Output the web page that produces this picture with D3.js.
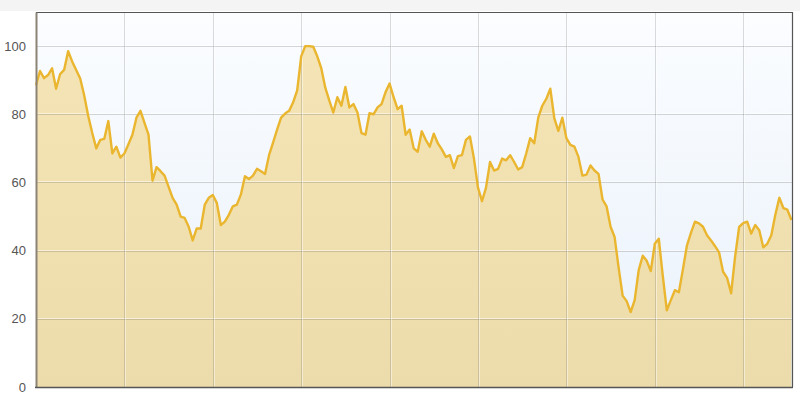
<!DOCTYPE html>
<html>
<head>
<meta charset="utf-8">
<script src="https://cdn.jsdelivr.net/npm/d3@7"></script>
<style>
  html, body { margin: 0; padding: 0; background: #fff; }
  svg { display: block; }
</style>
</head>
<body>
<div id="chart"></div>
<script>
// series values, one per step
const values = [
  88.5, 92.7, 90.6, 91.5, 93.5, 87.5, 91.8, 93.0, 98.5, 95.5,
  93.0, 90.5, 85.5, 79.5, 74.5, 70.0, 72.5, 72.8, 78.0, 68.5,
  70.5, 67.3, 68.5, 71.2, 74.0, 79.0, 81.0, 77.5, 74.0, 60.5,
  64.5, 63.3, 62.0, 58.7, 55.5, 53.5, 50.0, 49.6, 47.0, 43.0,
  46.5, 46.5, 53.5, 55.5, 56.3, 54.0, 47.5, 48.5, 50.5, 53.0,
  53.5, 56.5, 61.8, 61.0, 62.0, 64.0, 63.3, 62.5, 68.0, 71.7,
  75.5, 79.0, 80.2, 81.0, 83.5, 87.0, 97.0, 100.0, 100.0, 99.8,
  97.0, 93.5, 87.8, 84.0, 80.5, 85.0, 82.5, 88.0, 82.0, 83.0,
  80.5, 74.5, 74.0, 80.3, 80.0, 82.0, 83.0, 86.5, 89.0, 85.0,
  81.5, 82.5, 74.0, 75.5, 70.0, 69.0, 75.0, 72.5, 70.5, 74.3,
  71.5, 69.7, 67.5, 68.0, 64.2, 67.7, 68.0, 72.5, 73.5, 67.0,
  58.5, 54.5, 58.5, 66.0, 63.5, 64.0, 67.0, 66.5, 68.0, 66.0,
  63.8, 64.5, 68.5, 73.0, 71.5, 79.0, 82.5, 84.5, 87.5, 78.8,
  75.1, 79.0, 73.0, 71.0, 70.5, 67.5, 62.0, 62.3, 65.0, 63.5,
  62.5, 55.0, 53.0, 47.0, 44.0, 35.0, 26.8, 25.2, 22.0, 25.5,
  34.3, 38.5, 37.0, 34.0, 42.0, 43.5, 32.5, 22.5, 25.5, 28.4,
  27.8, 34.5, 41.5, 45.2, 48.5, 48.0, 47.0, 44.5, 43.0, 41.3,
  39.5, 33.8, 32.0, 27.5, 38.3, 47.0, 48.1, 48.5, 45.0, 47.5,
  46.0, 41.0, 42.0, 44.5, 50.5, 55.5, 52.5, 52.0, 49.0
];
const yTicks = [0, 20, 40, 60, 80, 100];
const xGridTicks = [22, 44, 66, 88, 110, 132, 154, 176];

const width = 800, height = 400;
const margin = { top: 12, right: 7, bottom: 13, left: 36 };
const innerW = width - margin.left - margin.right;
const innerH = height - margin.top - margin.bottom;

const x = d3.scaleLinear().domain([0, 188.4]).range([0, innerW]);
const y = d3.scaleLinear().domain([0, 110]).range([innerH, 0]);

const svg = d3.select("#chart").append("svg")
    .attr("width", width)
    .attr("height", height);

const defs = svg.append("defs");
const bg = defs.append("linearGradient").attr("id", "bg")
    .attr("x1", 0).attr("y1", 0).attr("x2", 0).attr("y2", 1);
bg.append("stop").attr("offset", "0%").attr("stop-color", "#fbfdff");
bg.append("stop").attr("offset", "100%").attr("stop-color", "#e9f1fb");

const fillGrad = defs.append("linearGradient").attr("id", "fillGrad")
    .attr("x1", 0).attr("y1", 0).attr("x2", 0).attr("y2", 1);
fillGrad.append("stop").attr("offset", "0%").attr("stop-color", "#f5e5b6");
fillGrad.append("stop").attr("offset", "100%").attr("stop-color", "#ecdcab");

// light band across the top of the page
svg.append("rect")
    .attr("x", 0).attr("y", 0).attr("width", width).attr("height", margin.top - 1)
    .attr("fill", "#f4f4f4");

const g = svg.append("g")
    .attr("transform", "translate(" + margin.left + "," + margin.top + ")");

g.append("rect")
    .attr("width", innerW).attr("height", innerH)
    .attr("fill", "url(#bg)");

const area = d3.area()
    .x((d, i) => x(i))
    .y0(innerH)
    .y1(d => y(d));

const line = d3.line()
    .x((d, i) => x(i))
    .y(d => y(d));

g.append("path")
    .datum(values)
    .attr("fill", "url(#fillGrad)")
    .attr("d", area);

// grid lines drawn over the fill
g.append("g").selectAll("line.hg")
    .data(yTicks.filter(d => d > 0))
    .join("line")
    .attr("x1", 0).attr("x2", innerW)
    .attr("y1", d => Math.round(y(d)) + 0.5)
    .attr("y2", d => Math.round(y(d)) + 0.5)
    .attr("stroke", "rgba(60,60,60,0.2)");

g.append("g").selectAll("line.hw")
    .data(yTicks.filter(d => d > 0))
    .join("line")
    .attr("x1", 0).attr("x2", innerW)
    .attr("y1", d => Math.round(y(d)) - 0.5)
    .attr("y2", d => Math.round(y(d)) - 0.5)
    .attr("stroke", "rgba(255,255,255,0.5)");

g.append("g").selectAll("line")
    .data(xGridTicks)
    .join("line")
    .attr("x1", d => Math.round(x(d)) + 0.5)
    .attr("x2", d => Math.round(x(d)) + 0.5)
    .attr("y1", 0).attr("y2", innerH)
    .attr("stroke", "rgba(60,60,60,0.18)");

g.append("g").selectAll("line")
    .data(xGridTicks)
    .join("line")
    .attr("x1", d => Math.round(x(d)) + 1.5)
    .attr("x2", d => Math.round(x(d)) + 1.5)
    .attr("y1", 0).attr("y2", innerH)
    .attr("stroke", "rgba(255,255,255,0.45)");

g.append("path")
    .datum(values)
    .attr("fill", "none")
    .attr("stroke", "#eab62f")
    .attr("stroke-width", 2.4)
    .attr("stroke-linejoin", "round")
    .attr("d", line);

// frame: top and right
g.append("path")
    .attr("d", "M0,0.5H" + (innerW - 0.5) + "V" + innerH)
    .attr("fill", "none")
    .attr("stroke", "#555")
    .attr("stroke-width", 1.2);

// y axis
const yAxis = g.append("g")
    .call(d3.axisLeft(y).tickValues(yTicks).tickSize(0).tickPadding(10));
yAxis.select(".domain").attr("stroke", "#8b8375").attr("stroke-width", 2);
yAxis.selectAll("text")
    .attr("font-family", "Liberation Sans, Arial, sans-serif")
    .attr("font-size", 13)
    .attr("fill", "#555");

// x axis line only
g.append("line")
    .attr("x1", -1).attr("x2", innerW)
    .attr("y1", innerH + 0.5).attr("y2", innerH + 0.5)
    .attr("stroke", "#555")
    .attr("stroke-width", 1.5);
</script>
</body>
</html>
